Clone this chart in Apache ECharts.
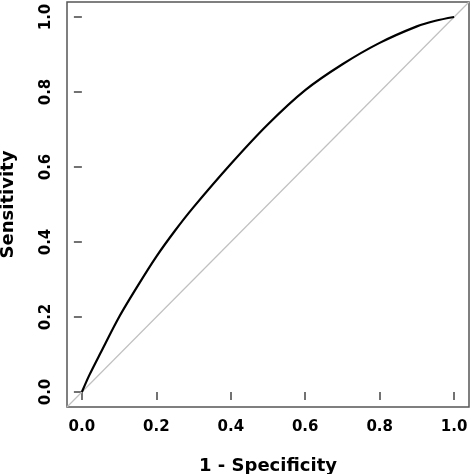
<!DOCTYPE html>
<html>
<head>
<meta charset="UTF-8">
<script src="https://cdn.jsdelivr.net/npm/echarts@6/dist/echarts.min.js"></script>
<style>html,body{margin:0;padding:0;background:#fff}#c{width:474px;height:474px}</style>
</head>
<body>
<div id="c"></div>
<script>
const fpr = [0, 0.02, 0.05, 0.1, 0.15, 0.2, 0.25, 0.3, 0.4, 0.5, 0.6, 0.7, 0.8, 0.9, 0.95, 1.0];
const tpr = [0, 0.045, 0.104, 0.20, 0.283, 0.361, 0.43, 0.493, 0.608, 0.714, 0.805, 0.874, 0.931, 0.975, 0.99, 1.0];
const ticks = [0, 0.2, 0.4, 0.6, 0.8, 1.0];
const diag = [[-0.04, -0.04], [1.04, 1.04]];

const font = 'DejaVu Sans';
function axis(name, gap, rotate) {
  return {
    type: 'value', min: -0.04, max: 1.04,
    name: name, nameLocation: 'middle', nameGap: gap,
    nameTextStyle: { fontFamily: font, fontWeight: 'bold', fontSize: 18, color: '#000' },
    axisLine: { show: false },
    splitLine: { show: false },
    axisTick: { show: true, inside: false, length: 8, customValues: ticks, lineStyle: { color: '#444', width: 1.5 } },
    axisLabel: { customValues: ticks, rotate: rotate, margin: 13, fontFamily: font, fontWeight: 'bold', fontSize: 15, color: '#000',
      formatter: v => v.toFixed(1) }
  };
}
const chart = echarts.init(document.getElementById('c'));
chart.setOption({
  animation: false,
  grid: { left: 67, right: 5, top: 2, bottom: 67, show: true, borderColor: '#555', borderWidth: 1.5, outerBoundsMode: 'none' },
  xAxis: axis('1 - Specificity', 50, 0),
  yAxis: axis('Sensitivity', 50, 90),
  series: [
    { type: 'line', data: diag, symbol: 'none', lineStyle: { color: '#c0c0c0', width: 1.2 } },
    { type: 'line', data: fpr.map((x, i) => [x, tpr[i]]), smooth: 0.3, symbol: 'none',
      lineStyle: { color: '#000', width: 2.2 } }
  ]
});
</script>
</body>
</html>
